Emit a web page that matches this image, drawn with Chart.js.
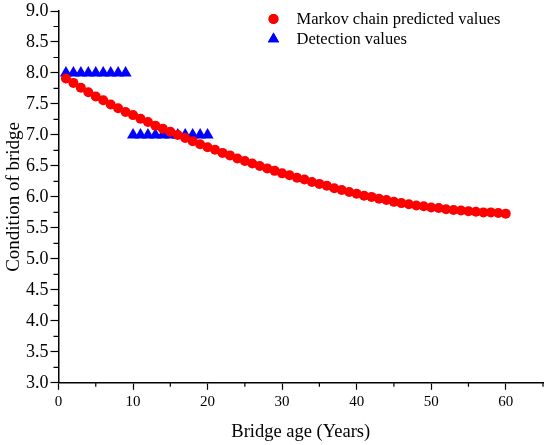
<!DOCTYPE html>
<html>
<head>
<meta charset="utf-8">
<script src="https://cdn.jsdelivr.net/npm/chart.js@4.4.1/dist/chart.umd.min.js"></script>
<style>
  html, body { margin: 0; padding: 0; background: #fff; }
  #wrap { width: 550px; height: 445px; }
</style>
</head>
<body>
<div id="wrap"><canvas id="chart" width="550" height="445"></canvas></div>
<script>
// years for the predicted curve
const years = [];
for (let i = 1; i <= 60; i++) years.push(i);

// Markov chain predicted values
const markovValues = [
  7.91, 7.84, 7.76, 7.69, 7.62, 7.56, 7.49, 7.43, 7.37, 7.32,
  7.26, 7.21, 7.15, 7.10, 7.05, 7.00, 6.95, 6.90, 6.85, 6.80,
  6.76, 6.71, 6.67, 6.62, 6.58, 6.54, 6.50, 6.46, 6.42, 6.38,
  6.35, 6.31, 6.28, 6.24, 6.21, 6.18, 6.14, 6.11, 6.08, 6.05,
  6.02, 6.00, 5.97, 5.95, 5.92, 5.90, 5.88, 5.86, 5.85, 5.83,
  5.82, 5.80, 5.79, 5.78, 5.77, 5.76, 5.75, 5.75, 5.74, 5.73
];

// detection values
const detectionYears = [1, 2, 3, 4, 5, 6, 7, 8, 9, 10, 11, 12, 13, 14, 15, 16, 17, 18, 19, 20];
const detectionValues = [8, 8, 8, 8, 8, 8, 8, 8, 8, 7, 7, 7, 7, 7, 7, 7, 7, 7, 7, 7];

// axis ticks
const xMajorTicks = [0, 10, 20, 30, 40, 50, 60];
const xMinorTicks = [5, 15, 25, 35, 45, 55, 65];
const yMajorTicks = [3.0, 3.5, 4.0, 4.5, 5.0, 5.5, 6.0, 6.5, 7.0, 7.5, 8.0, 8.5, 9.0];
const yMinorTicks = [3.25, 3.75, 4.25, 4.75, 5.25, 5.75, 6.25, 6.75, 7.25, 7.75, 8.25, 8.75];

const seriesNames = ['Markov chain predicted values', 'Detection values'];

const FONT = 'Liberation Serif, Times New Roman, serif';

const toPoints = (xs, ys) => xs.map((x, i) => ({ x: x, y: ys[i] }));

// short minor ticks on both axes
const minorTicks = {
    id: 'minorTicks',
    afterDraw(chart) {
        const ctx = chart.ctx;
        const xs = chart.scales.x;
        const ys = chart.scales.y;
        ctx.save();
        ctx.strokeStyle = '#000';
        ctx.lineWidth = 1.2;
        ctx.beginPath();
        xMinorTicks.forEach(v => {
            const px = xs.getPixelForValue(v);
            ctx.moveTo(px, xs.top);
            ctx.lineTo(px, xs.top + 4);
        });
        yMinorTicks.forEach(v => {
            const py = ys.getPixelForValue(v);
            ctx.moveTo(ys.right, py);
            ctx.lineTo(ys.right - 5, py);
        });
        ctx.stroke();
        ctx.restore();
    }
};

// legend drawn inside the plot, upper right
const insideLegend = {
    id: 'insideLegend',
    afterDraw(chart) {
        const ctx = chart.ctx;
        const area = chart.chartArea;
        const x0 = area.left + 215;
        ctx.save();
        ctx.font = '16.5px ' + FONT;
        ctx.textBaseline = 'middle';
        chart.data.datasets.forEach((ds, i) => {
            const y = area.top + 8 + i * 20;
            ctx.fillStyle = ds.backgroundColor;
            Chart.helpers.drawPoint(ctx, {
                pointStyle: ds.pointStyle,
                radius: ds.pointStyle === 'triangle' ? 6.5 : ds.pointRadius,
                borderWidth: 0
            }, x0, y);
            ctx.fill();
            ctx.fillStyle = '#000';
            ctx.fillText(ds.label, x0 + 23, y + 1);
        });
        ctx.restore();
    }
};

new Chart(document.getElementById('chart'), {
    type: 'scatter',
    data: {
        datasets: [
            {
                label: seriesNames[0],
                data: toPoints(years, markovValues),
                pointStyle: 'circle',
                pointRadius: 5,
                backgroundColor: '#ff0000',
                borderWidth: 0
            },
            {
                label: seriesNames[1],
                data: toPoints(detectionYears, detectionValues),
                pointStyle: 'triangle',
                pointRadius: 7,
                backgroundColor: '#0000ff',
                borderWidth: 0
            }
        ]
    },
    options: {
        responsive: false,
        animation: false,
        layout: { padding: { top: -6, right: 5, left: 5, bottom: 2 } },
        plugins: {
            legend: { display: false },
            tooltip: { enabled: false }
        },
        scales: {
            x: {
                type: 'linear',
                min: 0,
                max: 65,
                afterBuildTicks: (scale) => {
                    scale.ticks = xMajorTicks.map(v => ({ value: v }));
                },
                ticks: {
                    color: '#000',
                    font: { family: FONT, size: 15 },
                    padding: 3,
                    maxRotation: 0,
                    callback: (v) => String(v)
                },
                grid: {
                    drawOnChartArea: false,
                    tickLength: 7,
                    tickColor: '#000',
                    tickWidth: 1.2
                },
                border: { color: '#000', width: 1.5 },
                title: {
                    display: true,
                    text: 'Bridge age (Years)',
                    color: '#000',
                    font: { family: FONT, size: 18.5 },
                    padding: { top: 7, bottom: 0 }
                }
            },
            y: {
                type: 'linear',
                min: 3,
                max: 9,
                afterBuildTicks: (scale) => {
                    scale.ticks = yMajorTicks.map(v => ({ value: v }));
                },
                ticks: {
                    color: '#000',
                    font: { family: FONT, size: 18, lineHeight: 1 },
                    padding: 2,
                    callback: (v) => Number(v).toFixed(1)
                },
                grid: {
                    drawOnChartArea: false,
                    tickLength: 8,
                    tickColor: '#000',
                    tickWidth: 1.2
                },
                border: { color: '#000', width: 1.5 },
                title: {
                    display: true,
                    text: 'Condition of bridge',
                    color: '#000',
                    font: { family: FONT, size: 19, lineHeight: 1 },
                    padding: { top: 0, bottom: 0 }
                }
            }
        }
    },
    plugins: [minorTicks, insideLegend]
});
</script>
</body>
</html>
